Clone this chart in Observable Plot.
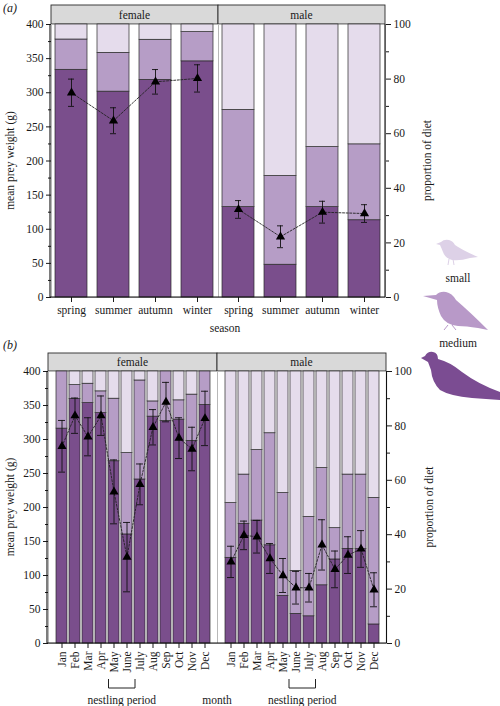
<!DOCTYPE html>
<html><head><meta charset="utf-8">
<script src="https://cdn.jsdelivr.net/npm/d3@7"></script>
<script src="https://cdn.jsdelivr.net/npm/@observablehq/plot@0.6"></script>
<style>
body{margin:0;background:#fff;font-family:'Liberation Serif','DejaVu Serif',serif;}
#wrap{position:relative;width:500px;height:706px;overflow:hidden;background:#fff;}
#wrap > svg{position:absolute;left:0;}
#wrap text{font-family:'Liberation Serif','DejaVu Serif',serif;}
</style></head><body><div id="wrap"></div>
<script>
// ---------- data ----------
const sexes = ["female", "male"];
const sizes = ["small", "medium", "large"];
const seasons = ["spring", "summer", "autumn", "winter"];
const months = ["Jan","Feb","Mar","Apr","May","June","July","Aug","Sep","Oct","Nov","Dec"];

// (a) proportion of diet (%) by season
const seasonLargeF  = [83.4, 75.4, 79.7, 86.5];
const seasonMediumF = [11.1, 14.2, 14.7, 10.7];
const seasonSmallF  = [5.5, 10.4, 5.6, 2.8];
const seasonLargeM  = [33.1, 12.0, 33.1, 28.3];
const seasonMediumM = [35.6, 32.5, 22.0, 27.8];
const seasonSmallM  = [31.3, 55.5, 44.9, 43.9];
// (a) mean prey weight (g) and error
const seasonWeightF = [300, 259, 316, 321];
const seasonErrF    = [20, 19, 18, 20];
const seasonWeightM = [129, 89, 125, 123];
const seasonErrM    = [13, 16, 16, 13];

// (b) proportion of diet (%) by month
const monthLargeF  = [79.0, 89.9, 88.4, 84.7, 67.0, 40.1, 60.3, 83.4, 81.8, 82.3, 74.5, 87.7];
const monthMediumF = [21.0, 5.1, 7.1, 8.0, 23.0, 29.9, 36.4, 5.6, 18.2, 7.1, 17.0, 12.3];
const monthSmallF  = [0, 5.0, 4.5, 7.3, 10.0, 30.0, 3.3, 11.0, 0, 10.6, 8.5, 0];
const monthLargeM  = [31.5, 44.0, 45.2, 36.1, 17.5, 10.9, 10.0, 21.4, 30.9, 34.8, 34.7, 7.0];
const monthMediumM = [20.1, 18.1, 25.9, 41.2, 37.8, 15.8, 36.5, 43.1, 11.5, 27.3, 27.4, 46.5];
const monthSmallM  = [48.4, 37.9, 28.9, 22.7, 44.7, 73.3, 53.5, 35.5, 57.6, 37.9, 37.9, 46.5];
// (b) mean prey weight (g) and error
const monthWeightF = [290, 335, 304, 335, 223, 127, 234, 318, 355, 302, 286, 331];
const monthErrF    = [38, 26, 28, 29, 47, 51, 30, 26, 29, 30, 32, 40];
const monthWeightM = [120, 159, 157, 125, 100, 82, 82, 145, 109, 130, 139, 79];
const monthErrM    = [23, 21, 24, 22, 25, 24, 21, 37, 27, 27, 27, 25];

const leftTicks = [0, 50, 100, 150, 200, 250, 300, 350, 400];
const rightTicks = [0, 20, 40, 60, 80, 100];

const colLight = "#e5dcec", colMedium = "#b69dc6", colDark = "#7a4e8c";
const FONT = "'Liberation Serif','DejaVu Serif',serif";

// ---------- helpers ----------
function buildTables(cats, F, M) {
  const bars = [], pts = [];
  for (const [sex, S] of [["female", F], ["male", M]]) {
    cats.forEach((c, i) => {
      bars.push({sex, cat: c, size: "large", p: S.large[i]});
      bars.push({sex, cat: c, size: "medium", p: S.medium[i]});
      bars.push({sex, cat: c, size: "small", p: S.small[i]});
      pts.push({sex, cat: c, w: S.w[i], e: S.e[i]});
    });
  }
  return {bars, pts};
}

function makeChart(cfg) {
  const {bars, pts} = buildTables(cfg.cats, cfg.F, cfg.M);
  const minor = (arr) => arr.slice(1).map((v, i) => (v + arr[i]) / 2);
  const rightW = rightTicks.map(v => v * 4);
  const svg = Plot.plot({
    width: cfg.width, height: cfg.height,
    marginLeft: cfg.ml, marginRight: cfg.mr, marginTop: cfg.mt, marginBottom: cfg.mb,
    style: {fontFamily: FONT, fontSize: "11.5px", color: "#1a1a1a", background: "transparent", overflow: "visible"},
    fx: {domain: sexes, padding: 0, axis: null},
    x: {domain: cfg.cats, paddingInner: cfg.pi, paddingOuter: cfg.po, label: null},
    y: {domain: [0, 400], label: null},
    color: {domain: sizes, range: [colLight, colMedium, colDark]},
    marks: [
      Plot.frame({stroke: "#b8b8b8", strokeWidth: 1}),
      Plot.barY(bars, {fx: "sex", x: "cat", y: d => d.p * 4, fill: "size",
        order: ["large", "medium", "small"], stroke: "#2a2a2a", strokeWidth: 0.7}),
      Plot.line(pts, {fx: "sex", x: "cat", y: "w", stroke: "#222", strokeWidth: 0.9, strokeDasharray: "2,1.6"}),
      Plot.ruleX(pts, {fx: "sex", x: "cat", y1: d => d.w - d.e, y2: d => d.w + d.e, stroke: "#111", strokeWidth: 0.9}),
      Plot.tickY(pts, {fx: "sex", x: "cat", y: d => d.w - d.e, stroke: "#111", strokeWidth: 0.9, insetLeft: cfg.cap, insetRight: cfg.cap}),
      Plot.tickY(pts, {fx: "sex", x: "cat", y: d => d.w + d.e, stroke: "#111", strokeWidth: 0.9, insetLeft: cfg.cap, insetRight: cfg.cap}),
      Plot.dot(pts, {fx: "sex", x: "cat", y: "w", symbol: "triangle", r: 3.4, fill: "#000", stroke: "none"}),
      Plot.axisY({anchor: "left", ticks: leftTicks, tickSize: 5, tickPadding: 3, label: null}),
      Plot.axisY({anchor: "left", ticks: minor(leftTicks), tickSize: 3, tickFormat: () => "", label: null}),
      Plot.axisY({anchor: "right", ticks: rightW, tickSize: 5, tickPadding: 3, tickFormat: d => d / 4, label: null}),
      Plot.axisY({anchor: "right", ticks: minor(rightW), tickSize: 3, tickFormat: () => "", label: null}),
      Plot.axisX({tickSize: 5, tickPadding: 3, tickRotate: cfg.rot, label: null})
    ]
  });
  decorate(svg, cfg);
  return svg;
}

function decorate(svg, cfg) {
  const fx = svg.scale("fx"), x = svg.scale("x"), y = svg.scale("y");
  const s = d3.select(svg);
  const top = y.apply(400), bot = y.apply(0);
  const left = cfg.ml, right = cfg.width - cfg.mr;
  const g0 = s.insert("g", ":first-child");
  for (const sex of sexes) {
    const x0 = fx.apply(sex);
    g0.append("rect").attr("x", x0).attr("y", top - cfg.strip).attr("width", fx.bandwidth)
      .attr("height", cfg.strip).attr("fill", "#d9d9d9").attr("stroke", "#2a2a2a").attr("stroke-width", 0.9);
  }
  const g = s.append("g").attr("font-family", FONT).attr("font-size", 11.5).attr("fill", "#1a1a1a");
  for (const sex of sexes) {
    g.append("text").attr("x", fx.apply(sex) + fx.bandwidth / 2).attr("y", top - cfg.strip / 2)
      .attr("text-anchor", "middle").attr("dy", "0.35em").text(sex);
  }
  // axis lines
  const L = (x1, y1, x2, y2) => g.append("line").attr("x1", x1).attr("y1", y1).attr("x2", x2).attr("y2", y2)
    .attr("stroke", "#111").attr("stroke-width", 1.1);
  L(left, top, left, bot); L(right, top, right, bot); L(left, bot, right, bot);
  const mid = (top + bot) / 2;
  g.append("text").attr("transform", `translate(10,${mid}) rotate(-90)`).attr("text-anchor", "middle")
    .attr("dy", "0.35em").text("mean prey weight (g)");
  g.append("text").attr("transform", `translate(${right + 42},${mid}) rotate(-90)`).attr("text-anchor", "middle")
    .attr("dy", "0.35em").text("proportion of diet");
  g.append("text").attr("x", 3).attr("y", cfg.tagY).attr("text-anchor", "start").attr("font-style", "italic")
    .attr("font-size", 12).text(cfg.tag);
  g.append("text").attr("x", cfg.xtitleX).attr("y", cfg.xtitleY).attr("text-anchor", "middle").attr("dy", "0.35em").text(cfg.xtitle);
  // nestling-period brackets
  const cx = (sex, cat) => fx.apply(sex) + (x.apply(cat) - x.range[0]) + x.bandwidth / 2;
  for (const b of (cfg.brackets || [])) {
    const a = cx(b.sex, b.from) + b.d1, c = cx(b.sex, b.to) + b.d2;
    const path = `M${a},${cfg.brY1}V${cfg.brY2}H${c}V${cfg.brY1}`;
    g.append("path").attr("d", path).attr("fill", "none").attr("stroke", "#222").attr("stroke-width", 1);
    g.append("text").attr("x", (a + c) / 2 + b.tdx).attr("y", cfg.brText).attr("text-anchor", "middle")
      .attr("dy", "0.35em").text("nestling period");
  }
}

// ---------- charts ----------
const wrap = document.getElementById("wrap");
const chartA = makeChart({
  cats: seasons, width: 440, height: 335, ml: 50, mr: 55, mt: 24, mb: 38, pi: 0.23, po: 0.08,
  cap: 13, rot: 0, strip: 19, tag: "(a)", tagY: 12, xtitle: "season", xtitleX: 225, xtitleY: 328,
  F: {large: seasonLargeF, medium: seasonMediumF, small: seasonSmallF, w: seasonWeightF, e: seasonErrF},
  M: {large: seasonLargeM, medium: seasonMediumM, small: seasonSmallM, w: seasonWeightM, e: seasonErrM}
});
chartA.style.top = "0px";
wrap.appendChild(chartA);

const chartB = makeChart({
  cats: months, width: 440, height: 371, ml: 47, mr: 53.5, mt: 36, mb: 63, pi: 0.18, po: 0.54,
  cap: 2, rot: -90, strip: 18, tag: "(b)", tagY: 14, xtitle: "month", xtitleX: 217, xtitleY: 365,
  brY1: 344, brY2: 353, brText: 365,
  brackets: [
    {sex: "female", from: "May", to: "July", d1: -5, d2: -4.5, tdx: 0},
    {sex: "male", from: "June", to: "July", d1: -6.5, d2: 7, tdx: 0}
  ],
  F: {large: monthLargeF, medium: monthMediumF, small: monthSmallF, w: monthWeightF, e: monthErrF},
  M: {large: monthLargeM, medium: monthMediumM, small: monthSmallM, w: monthWeightM, e: monthErrM}
});
chartB.style.top = "335px";
wrap.appendChild(chartB);

// ---------- legend (prey size silhouettes) ----------
const leg = d3.select(wrap).append("svg").attr("width", 500).attr("height", 706)
  .style("position", "absolute").style("left", "0px").style("top", "0px").style("pointer-events", "none");
leg.append("path").attr("fill", "#ddd1e7")
  .attr("d", "M436,244 L441,242 Q444,239 449,240 Q453,241 455,245 Q462,250 478,257 L470,258 Q460,261 452,260 Q445,258 443,252 Q441,247 440,245 Z");
leg.append("path").attr("stroke", "#ddd1e7").attr("fill", "none").attr("d", "M449,259 L448,265 M453,259 L454,265");
leg.append("path").attr("fill", "#b899c8")
  .attr("d", "M423,296 L436,295 Q440,291 446,292 Q452,293 456,300 Q470,312 488,330 L478,328 Q466,326 458,326 Q446,325 441,316 Q437,307 437,300 Z");
leg.append("path").attr("stroke", "#b899c8").attr("fill", "none").attr("d", "M448,325 L444,330 M452,325 L456,330");
leg.append("path").attr("fill", "#7b4c92")
  .attr("d", "M421,358 L425,356 Q428,351 433,352 Q438,353 438,359 Q450,362 462,372 Q478,384 500,392 L500,400 L472,398 Q450,396 440,390 Q432,382 431,370 L428,362 Z");
const lt = leg.append("g").attr("font-family", FONT).attr("font-size", 11.5).attr("fill", "#1a1a1a").attr("text-anchor", "middle");
lt.append("text").attr("x", 458).attr("y", 278).attr("dy", "0.35em").text("small");
lt.append("text").attr("x", 458).attr("y", 343).attr("dy", "0.35em").text("medium");
</script>
</body></html>
